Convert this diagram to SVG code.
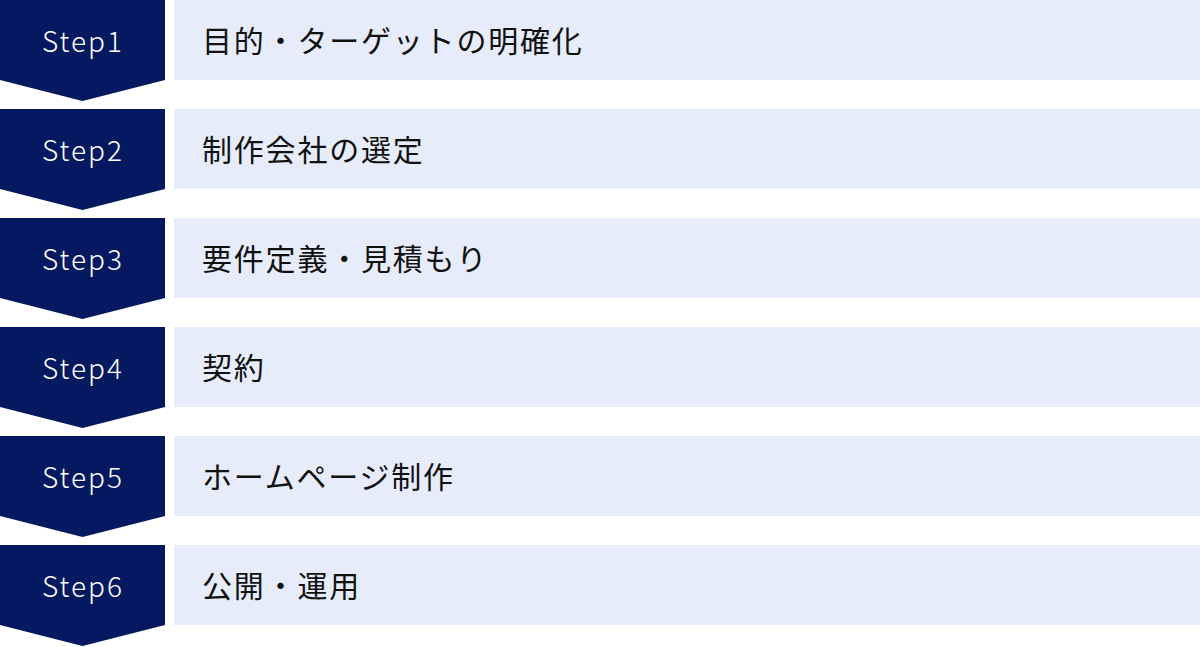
<svg xmlns="http://www.w3.org/2000/svg" width="1200" height="647" viewBox="0 0 1200 647">
<style>
.chev{fill:#04195F}
.box{fill:#E6ECF9}
.st{font-family:"Noto Sans CJK JP","Noto Sans",sans-serif;font-size:28px;font-weight:300;fill:#FFFFFF;text-anchor:middle;letter-spacing:2px}
.lb{font-family:"Noto Sans CJK JP","Noto Sans",sans-serif;font-size:30px;fill:#111111;letter-spacing:1.8px}
</style>
<defs>
<path id="chevron" class="chev" d="M0 0H165V80L82.5 101L0 80Z"/>
</defs>
<g id="connectors"></g>
<g id="step1" transform="translate(0,0)">
<use href="#chevron"/><rect class="box" x="174" y="0" width="1026" height="80"/>
<text class="st" x="83" y="52">Step1</text><text class="lb" x="202" y="52">目的・ターゲットの明確化</text>
</g>
<g id="step2" transform="translate(0,109)">
<use href="#chevron"/><rect class="box" x="174" y="0" width="1026" height="80"/>
<text class="st" x="83" y="52">Step2</text><text class="lb" x="202" y="52">制作会社の選定</text>
</g>
<g id="step3" transform="translate(0,218)">
<use href="#chevron"/><rect class="box" x="174" y="0" width="1026" height="80"/>
<text class="st" x="83" y="52">Step3</text><text class="lb" x="202" y="52">要件定義・見積もり</text>
</g>
<g id="step4" transform="translate(0,327)">
<use href="#chevron"/><rect class="box" x="174" y="0" width="1026" height="80"/>
<text class="st" x="83" y="52">Step4</text><text class="lb" x="202" y="52">契約</text>
</g>
<g id="step5" transform="translate(0,436)">
<use href="#chevron"/><rect class="box" x="174" y="0" width="1026" height="80"/>
<text class="st" x="83" y="52">Step5</text><text class="lb" x="202" y="52">ホームページ制作</text>
</g>
<g id="step6" transform="translate(0,545)">
<use href="#chevron"/><rect class="box" x="174" y="0" width="1026" height="80"/>
<text class="st" x="83" y="52">Step6</text><text class="lb" x="202" y="52">公開・運用</text>
</g>
</svg>
